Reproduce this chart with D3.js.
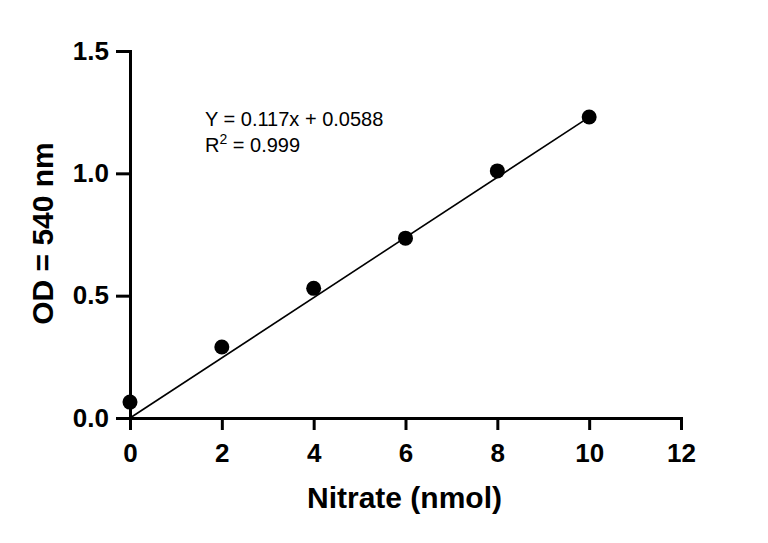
<!DOCTYPE html>
<html>
<head>
<meta charset="utf-8">
<script src="https://cdn.jsdelivr.net/npm/d3@7"></script>
<style>
  body { margin: 0; background: #fff; }
  svg { font-family: "Liberation Sans", Arial, sans-serif; }
</style>
</head>
<body>
<div id="chart"></div>
<script>
// Standard curve data
const nitrate = [0, 2, 4, 6, 8, 10];
const od = [0.065, 0.29, 0.53, 0.735, 1.01, 1.23];

// Fitted line as drawn in the figure
const fitX = [0, 10];
const fitY = [0, 1.23];

const xTicks = [0, 2, 4, 6, 8, 10, 12];
const yTicks = [0, 0.5, 1.0, 1.5];

// Chart dimensions
const margin = { top: 51, right: 87, bottom: 125, left: 130 };
const width = 768 - margin.left - margin.right;
const height = 543 - margin.top - margin.bottom;

const svg = d3
  .select("#chart")
  .append("svg")
  .attr("width", 768)
  .attr("height", 543)
  .append("g")
  .attr("transform", `translate(${margin.left},${margin.top})`);

// Scales
const x = d3.scaleLinear().domain([0, 12]).range([0, width]);
const y = d3.scaleLinear().domain([0, 1.5]).range([height, 0]);

// Fit line
const line = d3
  .line()
  .x((d) => x(d[0]))
  .y((d) => y(d[1]));

svg
  .append("path")
  .datum(fitX.map((v, i) => [v, fitY[i]]))
  .attr("fill", "none")
  .attr("stroke", "#000")
  .attr("stroke-width", 1.6)
  .attr("d", line);

// X axis
const xAxis = svg
  .append("g")
  .attr("transform", `translate(0,${height})`)
  .call(d3.axisBottom(x).tickValues(xTicks).tickSize(12).tickPadding(14).tickSizeOuter(0));

// Y axis
const yAxis = svg
  .append("g")
  .call(
    d3
      .axisLeft(y)
      .tickValues(yTicks)
      .tickSize(14)
      .tickPadding(7)
      .tickSizeOuter(0)
      .tickFormat(d3.format(".1f"))
  );

[xAxis, yAxis].forEach((g) => {
  g.select(".domain").attr("stroke-width", 3).attr("stroke-linecap", "square");
  g.selectAll(".tick line").attr("stroke-width", 3);
  g.selectAll(".tick text")
    .attr("fill", "#000")
    .style("font-size", "26px")
    .style("font-weight", "bold");
});

// Data points
svg
  .selectAll("circle")
  .data(nitrate)
  .enter()
  .append("circle")
  .attr("cx", (d) => x(d))
  .attr("cy", (d, i) => y(od[i]))
  .attr("r", 7.5)
  .attr("fill", "#000");

// Equation text
svg
  .append("text")
  .attr("x", 75)
  .attr("y", 75)
  .style("font-size", "20px")
  .text("Y = 0.117x + 0.0588");

const r2 = svg.append("text").attr("x", 75).attr("y", 101).style("font-size", "20px");
r2.append("tspan").text("R");
r2.append("tspan").attr("dy", -8).style("font-size", "14px").text("2");
r2.append("tspan").attr("dy", 8).text(" = 0.999");

// Axis titles
svg
  .append("text")
  .attr("x", width / 2 - 1)
  .attr("y", height + 90)
  .attr("text-anchor", "middle")
  .style("font-size", "30px")
  .style("font-weight", "bold")
  .text("Nitrate (nmol)");

svg
  .append("text")
  .attr("transform", `translate(-77,${height / 2 - 1}) rotate(-90)`)
  .attr("text-anchor", "middle")
  .style("font-size", "30px")
  .style("font-weight", "bold")
  .text("OD = 540 nm");
</script>
</body>
</html>
